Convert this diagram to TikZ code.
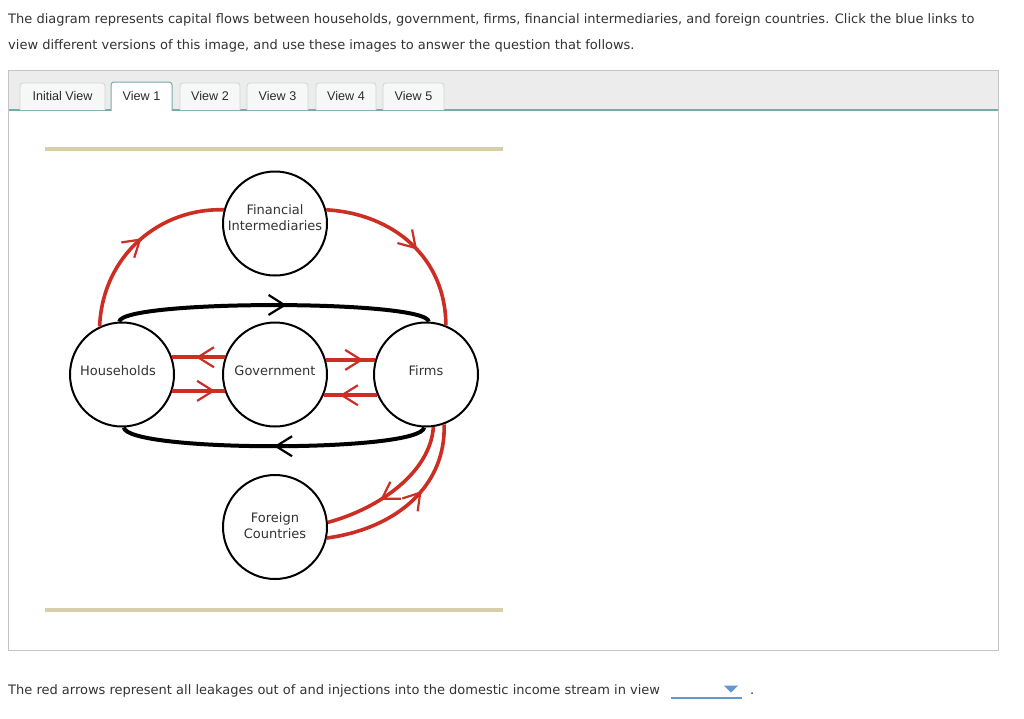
\documentclass[tikz,border=0pt]{standalone}
\usepackage{fontspec}
\setmainfont{DejaVu Sans}
\newfontfamily\arialf{Liberation Sans}
\usetikzlibrary{arrows.meta,decorations.markings}
\definecolor{flowred}{RGB}{204,46,36}
\definecolor{txtgray}{RGB}{51,51,51}
\definecolor{beige}{RGB}{216,207,170}
\definecolor{panelborder}{RGB}{196,196,196}
\definecolor{bandgray}{RGB}{236,236,236}
\definecolor{tabfill}{RGB}{246,247,247}
\definecolor{tabborder}{RGB}{210,212,212}
\definecolor{teal}{RGB}{120,170,170}
\definecolor{ddblue}{RGB}{100,150,210}
\tikzset{
  bubble/.style={circle,draw=black,line width=2pt,minimum size=104pt,inner sep=0pt,fill=white},
  bubbletext/.style={align=center,font=\fontsize{13}{16}\selectfont,text=txtgray,inner sep=0pt},
  redflow/.style={draw=flowred,line width=3.6pt},
  blackflow/.style={draw=black,line width=4pt},
  redtip/.style={postaction={decorate,decoration={markings,
    mark=at position #1 with {\arrow[flowred,line width=2pt]{Straight Barb[length=16pt,width=20pt,line width=2.2pt]}}}}},
  blacktip/.style={postaction={decorate,decoration={markings,
    mark=at position #1 with {\arrow[black,line width=2pt]{Straight Barb[length=16pt,width=20pt,line width=2.2pt]}}}}},
  tabshape/.style={fill=tabfill,draw=tabborder,line width=0.8pt,rounded corners=3pt},
  tabtext/.style={font=\arialf\fontsize{12.6}{14}\selectfont,text=txtgray!85!black,inner sep=0pt},
  bodytext/.style={font=\fontsize{13}{15}\selectfont,text=txtgray,inner sep=0pt,anchor=base west},
}
\begin{document}
\begin{tikzpicture}[x=1pt,y=-1pt]
\useasboundingbox (0,0) rectangle (1024,718);
\fill[white] (0,0) rectangle (1024,718);

% header text
\node[bodytext] (h1) at (8,23) {The diagram represents capital flows between households, government, firms, financial intermediaries, and foreign countries. Click the blue links to};
\node[bodytext] (h2) at (8,49) {view different versions of this image, and use these images to answer the question that follows.};

% panel
\fill[bandgray] (8,70) rectangle (998,110);
\draw[panelborder,line width=1pt] (8,70) rectangle (998,650);
\draw[teal,line width=1.2pt] (8.5,110) -- (997.5,110);

% tabs
\draw[tabshape] (20,110) -- (20,83) -- (105,83) -- (105,110);
\node[tabtext] (t0) at (62.5,96) {Initial View};
\draw[fill=white,draw=teal,line width=1pt,rounded corners=3pt] (111,110.8) -- (111,82) -- (172,82) -- (172,110.8);
\fill[white] (111.6,109) rectangle (171.4,111.6);
\node[tabtext] (t1) at (141.5,96) {View 1};
\draw[tabshape] (180,110) -- (180,83) -- (240,83) -- (240,110);
\node[tabtext] (t2) at (210,96) {View 2};
\draw[tabshape] (247,110) -- (247,83) -- (308,83) -- (308,110);
\node[tabtext] (t3) at (277.5,96) {View 3};
\draw[tabshape] (316,110) -- (316,83) -- (376,83) -- (376,110);
\node[tabtext] (t4) at (346,96) {View 4};
\draw[tabshape] (383,110) -- (383,83) -- (444,83) -- (444,110);
\node[tabtext] (t5) at (413.5,96) {View 5};

% beige rules
\draw[beige,line width=4pt] (45,149) -- (503,149);
\draw[beige,line width=4pt] (45,610) -- (503,610);

% circles
\node[bubble] (fi) at (275,223.5) {};
\node[bubble] (hh) at (122,374.5) {};
\node[bubble] (gov) at (275,374.5) {};
\node[bubble] (firms) at (426,374.5) {};
\node[bubble] (fc) at (275,527) {};
\node[bubbletext] (fil) at (275,218) {Financial\\Intermediaries};
\node[bubbletext] (hhl) at (118,371) {Households};
\node[bubbletext] (govl) at (275,371) {Government};
\node[bubbletext] (firmsl) at (426,371) {Firms};
\node[bubbletext] (fcl) at (275,526) {Foreign\\Countries};

% black circular flow
\draw[blackflow,blacktip=0.54] (hh.93) .. controls +(3,-22) and +(-3,-22) .. (firms.87);
\draw[blackflow,blacktip=0.5] (firms.-92) .. controls +(-3,25) and +(3,25) .. (hh.-88);

% red flows via financial intermediaries
\draw[redflow,redtip=0.53] (hh.115) .. controls +(3,-72) and +(-63,-2) .. (fi.165);
\draw[redflow,redtip=0.55] (fi.15) .. controls +(68,4) and +(0,-67) .. (firms.68);

% red flows via government
\draw[redflow,redtip=0.55] (gov.161) -- (hh.19);
\draw[redflow,redtip=0.82] (hh.-18) -- (gov.198);
\draw[redflow,redtip=0.76] (gov.16) -- (firms.164);
\draw[redflow,redtip=0.7] (firms.203) -- (gov.-23);

% red flows with foreign countries
\draw[redflow,redtip=0.62] (firms.-82) .. controls +(-3,45) and +(52,-14) .. (fc.5);
\draw[redflow,redtip=0.6] (fc.-12) .. controls +(72,-10) and +(2,60) .. (firms.-70);

% question line
\node[bodytext] (q) at (8,694) {The red arrows represent all leakages out of and injections into the domestic income stream in view};
\coordinate (ddl) at (671,698);
\coordinate (ddr) at (742,698);
\draw[ddblue,line width=1.6pt] (ddl) -- (ddr);
\fill[ddblue] (724,685.5) -- (738,685.5) -- (731,692.5) -- cycle;
\node[bodytext] (dot) at (750,694) {.};
\end{tikzpicture}
\end{document}
